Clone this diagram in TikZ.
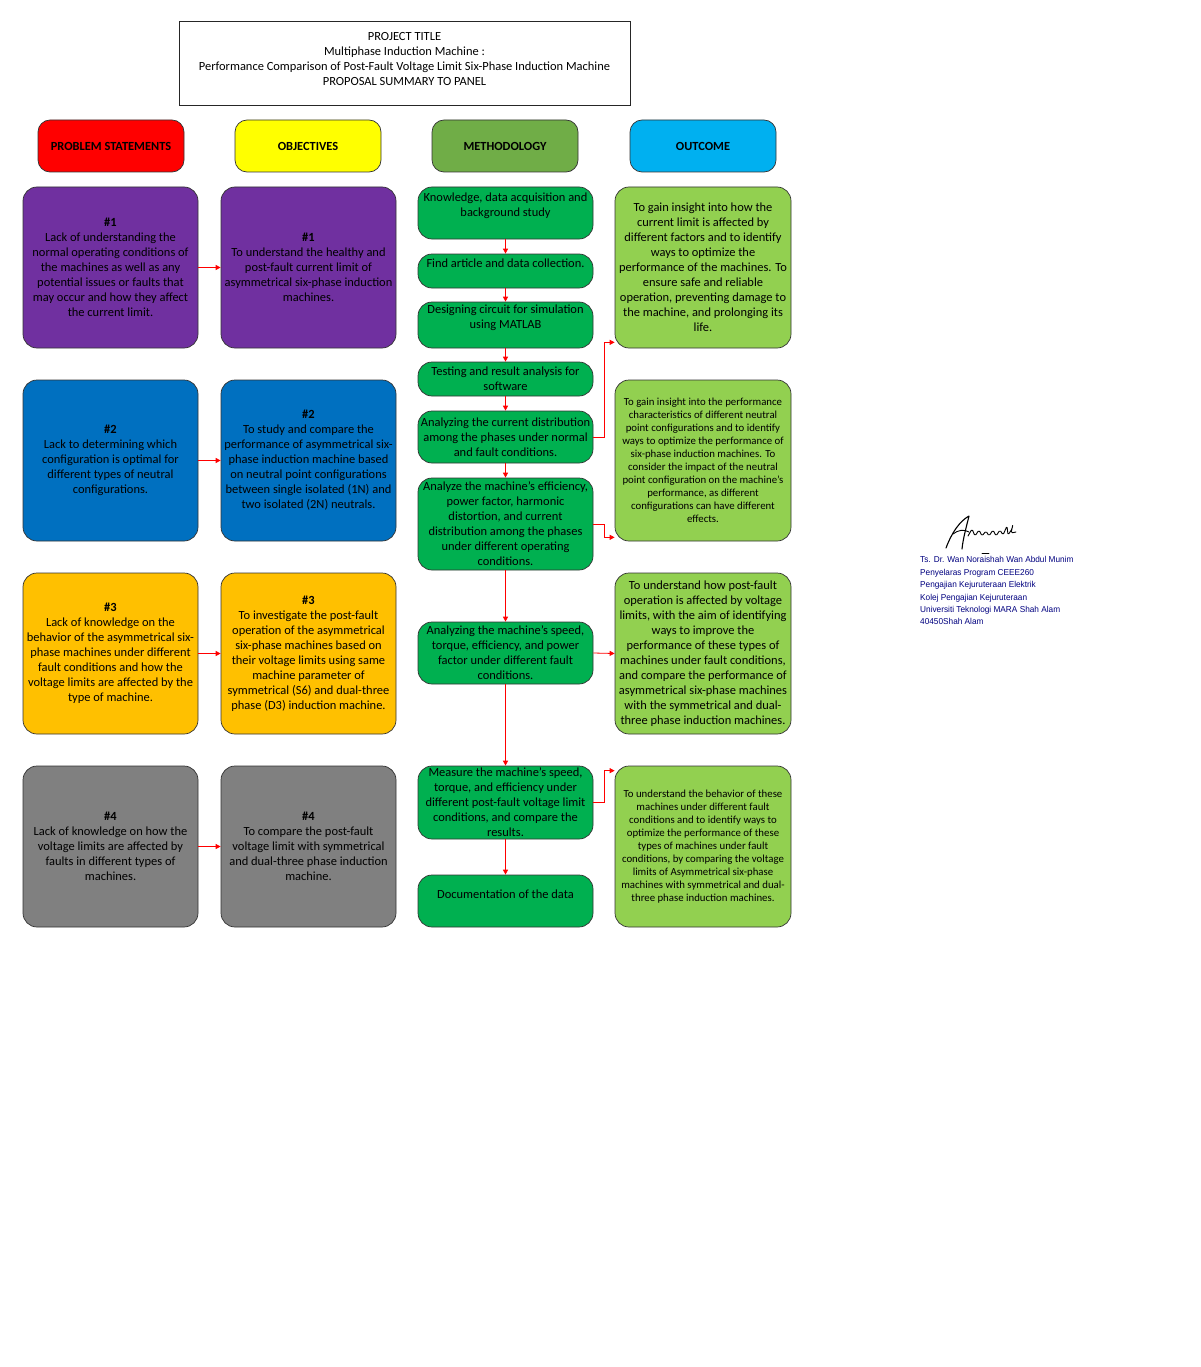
\documentclass[tikz,border=0pt]{standalone}
\usepackage{fontspec}
\setmainfont{Carlito}
\newfontfamily\sigfont[FakeStretch=0.96]{Liberation Sans}
\usetikzlibrary{arrows.meta}
\definecolor{cPurple}{HTML}{7030A0}
\definecolor{cBlue}{HTML}{0070C0}
\definecolor{cGold}{HTML}{FFC000}
\definecolor{cGray}{HTML}{808080}
\definecolor{cRed}{HTML}{FF0000}
\definecolor{cYellow}{HTML}{FFFF00}
\definecolor{cHGreen}{HTML}{70AD47}
\definecolor{cSky}{HTML}{00B0F0}
\definecolor{cMGreen}{HTML}{00B050}
\definecolor{cLGreen}{HTML}{92D050}
\definecolor{cSig}{HTML}{000080}
\begin{document}
\begin{tikzpicture}[x=1pt,y=-1pt,
  txt/.style={align=center, inner sep=0pt, font=\fontsize{12.45}{15}\selectfont},
  smalltxt/.style={align=center, inner sep=0pt, font=\fontsize{10.8}{13}\selectfont},
  base/.style={draw=black!80, line width=0.7pt, rounded corners=14pt, inner sep=0pt, txt},
  hdr/.style={base, rounded corners=12pt, minimum width=146pt, minimum height=52pt, font=\fontsize{12.4}{14}\selectfont\bfseries},
  bigbox/.style={base, minimum width=175pt, minimum height=161pt},
  obox/.style={base, minimum width=176pt, minimum height=161pt},
  mbox/.style={base, fill=cMGreen, minimum width=175pt},
  arr/.style={draw=red, line width=0.8pt, -{Triangle[length=5pt,width=5pt]}}
]
\useasboundingbox[fill=white] (0,0) rectangle (1200,1367);

% Title
\node[draw=black!85, line width=0.7pt, minimum width=451pt, minimum height=84pt, inner sep=0pt] (title) at (404.5,63) {};
\node[txt] (titletext) at (404.5,59.5) {PROJECT TITLE\\Multiphase Induction Machine :\\Performance Comparison of Post-Fault Voltage Limit Six-Phase Induction Machine\\PROPOSAL SUMMARY TO PANEL};

% Headers
\node[hdr, fill=cRed] (hps) at (111,146) {PROBLEM STATEMENTS};
\node[hdr, fill=cYellow] (hob) at (308,146) {OBJECTIVES};
\node[hdr, fill=cHGreen] (hme) at (505,146) {METHODOLOGY};
\node[hdr, fill=cSky] (hou) at (703,146) {OUTCOME};

% Problem statements
\node[bigbox, fill=cPurple] (p1) at (110.5,267.5) {\textbf{\#1}\\Lack of understanding the\\normal operating conditions of\\the machines as well as any\\potential issues or faults that\\may occur and how they affect\\the current limit.};
\node[bigbox, fill=cBlue] (p2) at (110.5,460.5) {\textbf{\#2}\\Lack to determining which\\configuration is optimal for\\different types of neutral\\configurations.};
\node[bigbox, fill=cGold] (p3) at (110.5,653.5) {\textbf{\#3}\\Lack of knowledge on the\\behavior of the asymmetrical six-\\phase machines under different\\fault conditions and how the\\voltage limits are affected by the\\type of machine.};
\node[bigbox, fill=cGray] (p4) at (110.5,846.5) {\textbf{\#4}\\Lack of knowledge on how the\\voltage limits are affected by\\faults in different types of\\machines.};

% Objectives
\node[bigbox, fill=cPurple] (o1) at (308.5,267.5) {\textbf{\#1}\\To understand the healthy and\\post-fault current limit of\\asymmetrical six-phase induction\\machines.};
\node[bigbox, fill=cBlue] (o2) at (308.5,460.5) {\textbf{\#2}\\To study and compare the\\performance of asymmetrical six-\\phase induction machine based\\on neutral point configurations\\between single isolated (1N) and\\two isolated (2N) neutrals.};
\node[bigbox, fill=cGold] (o3) at (308.5,653.5) {\textbf{\#3}\\To investigate the post-fault\\operation of the asymmetrical\\six-phase machines based on\\their voltage limits using same\\machine parameter of\\symmetrical (S6) and dual-three\\phase (D3) induction machine.};
\node[bigbox, fill=cGray] (o4) at (308.5,846.5) {\textbf{\#4}\\To compare the post-fault\\voltage limit with symmetrical\\and dual-three phase induction\\machine.};

% Methodology
\node[mbox, minimum height=52pt] (m1) at (505.5,213) {};
\node[txt] (m1t) at (505.5,206) {Knowledge, data acquisition and\\background study};
\node[mbox, minimum height=34pt] (m2) at (505.5,271) {};
\node[txt] (m2t) at (505.5,263.5) {Find article and data collection.};
\node[mbox, minimum height=46pt] (m3) at (505.5,325) {};
\node[txt] (m3t) at (505.5,318) {Designing circuit for simulation\\using MATLAB};
\node[mbox, minimum height=34pt] (m4) at (505.5,379) {Testing and result analysis for\\software};
\node[mbox, minimum height=52pt] (m5) at (505.5,437) {Analyzing the current distribution\\among the phases under normal\\and fault conditions.};
\node[mbox, minimum height=92pt] (m6) at (505.5,524) {Analyze the machine's efficiency,\\power factor, harmonic\\distortion, and current\\distribution among the phases\\under different operating\\conditions.};
\node[mbox, minimum height=62pt] (m7) at (505.5,653) {Analyzing the machine's speed,\\torque, efficiency, and power\\factor under different fault\\conditions.};
\node[mbox, minimum height=73pt] (m8) at (505.5,802.5) {Measure the machine's speed,\\torque, and efficiency under\\different post-fault voltage limit\\conditions, and compare the\\results.};
\node[mbox, minimum height=52pt] (m9) at (505.5,901) {};
\node[txt] (m9t) at (505.5,894.5) {Documentation of the data};

% Outcome
\node[obox, fill=cLGreen] (u1) at (703,267.5) {To gain insight into how the\\current limit is affected by\\different factors and to identify\\ways to optimize the\\performance of the machines. To\\ensure safe and reliable\\operation, preventing damage to\\the machine, and prolonging its\\life.};
\node[obox, fill=cLGreen, smalltxt] (u2) at (703,460.5) {To gain insight into the performance\\characteristics of different neutral\\point configurations and to identify\\ways to optimize the performance of\\six-phase induction machines. To\\consider the impact of the neutral\\point configuration on the machine's\\performance, as different\\configurations can have different\\effects.};
\node[obox, fill=cLGreen] (u3) at (703,653.5) {To understand how post-fault\\operation is affected by voltage\\limits, with the aim of identifying\\ways to improve the\\performance of these types of\\machines under fault conditions,\\and compare the performance of\\asymmetrical six-phase machines\\with the symmetrical and dual-\\three phase induction machines.};
\node[obox, fill=cLGreen, smalltxt] (u4) at (703,846.5) {To understand the behavior of these\\machines under different fault\\conditions and to identify ways to\\optimize the performance of these\\types of machines under fault\\conditions, by comparing the voltage\\limits of Asymmetrical six-phase\\machines with symmetrical and dual-\\three phase induction machines.};

% Connectors: problem -> objective
\draw[arr] (p1.east) -- (o1.west);
\draw[arr] (p2.east) -- (o2.west);
\draw[arr] (p3.east) -- (o3.west);
\draw[arr] (p4.east) -- (o4.west);

% Methodology chain
\draw[arr] (m1.south) -- (m2.north);
\draw[arr] (m2.south) -- (m3.north);
\draw[arr] (m3.south) -- (m4.north);
\draw[arr] (m4.south) -- (m5.north);
\draw[arr] (m5.south) -- (m6.north);
\draw[arr] (m6.south) -- (m7.north);
\draw[arr] (m7.south) -- (m8.north);
\draw[arr] (m8.south) -- (m9.north);

% Methodology -> outcome
\draw[arr] (m5.east) -- ++(11,0) |- ([yshift=6pt]u1.south west);
\draw[arr] (m6.east) -- ++(11,0) |- ([yshift=4pt]u2.south west);
\draw[arr] (m7.east) -- (u3.west);
\draw[arr] (m8.east) -- ++(11,0) |- ([yshift=-5pt]u4.north west);

% Signature
\draw[line width=1.1pt, line cap=round, line join=round] (946,548) .. controls (952,532) and (960,521) .. (969,516) .. controls (966,528) and (963,539) .. (962,549);
\draw[line width=0.9pt, line cap=round, line join=round] (953,534) .. controls (958,530) and (964,529) .. (969,532);
\draw[line width=0.9pt, line cap=round, line join=round, rounded corners=1.5pt] (968,536) -- (972,529) -- (975,536) -- (979,530) -- (982,536) -- (986,531) -- (989,536) -- (993,530) -- (996,536) -- (1000,530) -- (1003,535) -- (1007,526) -- (1008,535) -- (1012,529) -- (1013,524) -- (1011,533) -- (1016,532);
\draw[line width=0.9pt, line cap=round] (982,553) -- (989,553);
\node[anchor=north west, align=left, inner sep=0pt, text=cSig, font=\sigfont\fontsize{8.6}{12.4}\selectfont] (sig) at (920,556.5) {Ts. Dr. Wan Noraishah Wan Abdul Munim\\Penyelaras Program CEEE260\\Pengajian Kejuruteraan Elektrik\\Kolej Pengajian Kejuruteraan\\Universiti Teknologi MARA Shah Alam\\40450Shah Alam};
\end{tikzpicture}
\end{document}
